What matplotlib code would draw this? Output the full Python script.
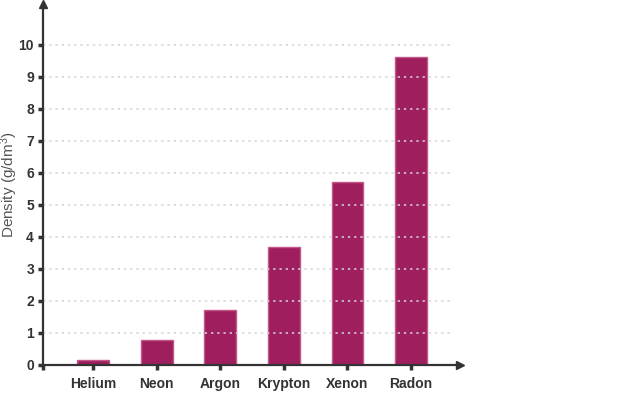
"""
Density of the noble gases
"""
import matplotlib
matplotlib.use("Agg")
import matplotlib.pyplot as plt

gases = ["Helium", "Neon", "Argon", "Krypton", "Xenon", "Radon"]
density = [0.17, 0.77, 1.72, 3.69, 5.71, 9.62]
y_ticks = [0, 1, 2, 3, 4, 5, 6, 7, 8, 9, 10]

BAR = "#9F1F5E"
EDGE = "#C2588A"
AXIS = "#333333"


def show_density_chart():
    plt.rcParams["font.family"] = ["Liberation Sans", "DejaVu Sans"]
    plt.rcParams["mathtext.default"] = "regular"

    fig = plt.figure(figsize=(6.24, 3.96), dpi=100)
    ax = fig.add_axes([43 / 624, 31 / 396, 417 / 624, 361 / 396])

    x = list(range(len(gases)))
    ax.bar(x, density, width=0.5, color=BAR, edgecolor=EDGE, linewidth=1, zorder=2)

    left, right = -0.786, 5.77
    ax.set_xlim(left, right)
    ax.set_ylim(0, 11.28)

    # dotted grid, drawn over the bars and stopping short of the arrow
    for t in y_ticks[1:]:
        ax.plot([left, 5.64], [t, t], color="#D3D3DB", alpha=0.8,
                linestyle=(0, (1.2, 2.0)), linewidth=1.4, zorder=3)

    for side in ["top", "right"]:
        ax.spines[side].set_visible(False)
    for side in ["left", "bottom"]:
        ax.spines[side].set_color(AXIS)
        ax.spines[side].set_linewidth(1.6)
        ax.spines[side].set_zorder(4)

    # arrow heads
    ax.plot(1, 0, marker=">", color=AXIS, markersize=6, transform=ax.transAxes,
            clip_on=False, zorder=5)
    ax.plot(0, 1, marker="^", color=AXIS, markersize=6, transform=ax.transAxes,
            clip_on=False, zorder=5)

    ax.set_yticks(y_ticks)
    ax.set_yticklabels([str(t) for t in y_ticks], fontweight="bold", fontsize=10, color=AXIS)
    ax.set_xticks([left] + x)
    ax.set_xticklabels([""] + gases, fontweight="bold", fontsize=10, color=AXIS)
    ax.tick_params(axis="y", length=3.5, width=2.5, color=AXIS, pad=3)
    ax.tick_params(axis="x", length=3.5, width=2.5, color=AXIS, pad=5)

    ax.set_ylabel("Density (g/dm$^3$)", fontsize=11, color="#555555")
    ax.yaxis.set_label_coords(-0.054, 0.5)

    fig.savefig("out.png", dpi=100)


if __name__ == '__main__':
    show_density_chart()
